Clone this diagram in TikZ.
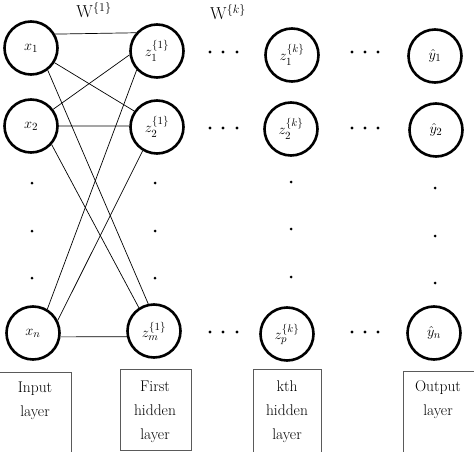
\documentclass[tikz,border=0pt]{standalone}
\usepackage{amsmath,amssymb}
\usepackage{xcolor}
\usepackage{tikz}
\usetikzlibrary{positioning,calc}
\definecolor{boxgray}{RGB}{90, 90, 90}

\begin{document}
\begin{tikzpicture}[x=1pt, y=-1pt, >=stealth,
    neuron/.style={circle, draw, line width=2.6pt, minimum size=53pt, inner sep=0pt, font=\fontsize{15.5}{18}\selectfont},
    wire/.style={line width=0.7pt},
    layerbox/.style={draw=boxgray, line width=0.9pt},
    layertext/.style={align=center, font=\fontsize{15.5}{24}\selectfont}]
    \useasboundingbox (0,0) rectangle (474,452);

    \node[neuron] (x1) at (31,48) {$x_1$};
    \node[neuron] (x2) at (31,126) {$x_2$};
    \node[neuron] (xn) at (33,333) {$x_n$};

    \node[neuron] (z11) at (157,51) {$z_1^{\{1\}}$};
    \node[neuron] (z21) at (157,127) {$z_2^{\{1\}}$};
    \node[neuron] (zm1) at (154,331) {$z_m^{\{1\}}$};

    \node[neuron] (z1k) at (292,55) {$z_1^{\{k\}}$};
    \node[neuron] (z2k) at (291,129) {$z_2^{\{k\}}$};
    \node[neuron] (zpk) at (287,334) {$z_p^{\{k\}}$};

    \node[neuron] (y1) at (435,56) {$\hat{y}_1$};
    \node[neuron] (y2) at (436,130) {$\hat{y}_2$};
    \node[neuron] (yn) at (434,333) {$\hat{y}_n$};

    \node[font=\fontsize{18}{20}\selectfont] (w1) at (94,10) {$\mathrm{W}^{\{1\}}$};
    \node[font=\fontsize{18}{20}\selectfont] (wk) at (228,12) {$\mathrm{W}^{\{k\}}$};

    % weights between input and first hidden layer
    \foreach \a/\b/\c/\d in {x1/30/z11/139, x1/-32/z21/145, x1/-53/zm1/102,
                             x2/37/z11/188, x2/0/z21/178, x2/-42/zm1/123,
                             xn/59/z11/223, xn/27/z21/239, xn/-8/zm1/192}
        \draw[wire] (\a.\b) -- (\c.\d);

    % vertical dots
    \foreach \y in {183,231,278} {
        \fill (32,\y) circle (1.5);
        \fill (155,\y) circle (1.5);
    }
    \foreach \y in {182,229,277} \fill (291,\y) circle (1.5);
    \foreach \y in {188,236,283} \fill (435,\y) circle (1.5);

    % horizontal dots
    \foreach \y in {52,128,332} {
        \foreach \x in {210,223,237,352,365,378}
            \fill (\x,\y) circle (1.6);
    }

    \draw[layerbox] (-2,372) rectangle (71,460);
    \draw[layerbox] (120,369) rectangle (191,450.5);
    \draw[layerbox] (253,369) rectangle (321,460);
    \draw[layerbox] (403,371) rectangle (480,460);

    \node[layertext] (inlab) at (35,401) {Input\\layer};
    \node[layertext] (h1lab) at (155,412) {First\\hidden\\layer};
    \node[layertext] (hklab) at (287,412) {kth\\hidden\\layer};
    \node[layertext] (outlab) at (438,400) {Output\\layer};
\end{tikzpicture}
\end{document}
